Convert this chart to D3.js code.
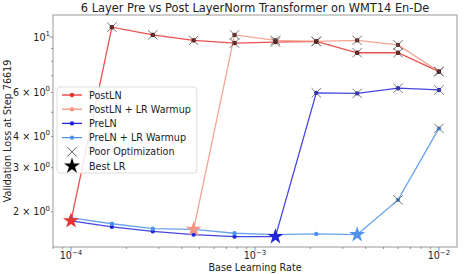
<!DOCTYPE html>
<html><head><meta charset="utf-8">
<script src="https://cdn.jsdelivr.net/npm/d3@7"></script>
<style>body{margin:0;background:#fff}text{font-family:"DejaVu Sans",sans-serif;fill:#222}</style>
</head><body><svg id="c" width="474" height="274"></svg>
<script>
// Data
const lrs = [1e-4, 1.668e-4, 2.783e-4, 4.642e-4, 7.743e-4, 1.292e-3, 2.154e-3, 3.594e-3, 5.995e-3, 1e-2];
const postLN       = [1.84, 10.95, 10.2, 9.7, 9.46, 9.55, 9.6, 8.65, 8.65, 7.27];
const postLNWarmup = [null, null, null, 1.70, 10.2, 9.7, 9.6, 9.7, 9.3, 7.27];
const preLN        = [1.84, 1.74, 1.67, 1.62, 1.59, 1.59, 5.98, 5.95, 6.24, 6.14];
const preLNWarmup  = [1.89, 1.79, 1.71, 1.70, 1.64, 1.62, 1.63, 1.62, 2.23, 4.31];
// indices with poor optimization (x) and best LR (star)
const poorPostLN = [1,2,3,4,5,6,7,8,9];
const poorPostLNWarmup = [4,5,6,7,8,9];
const poorPreLN = [6,7,8,9];
const poorPreLNWarmup = [8,9];
const bestIdx = [0, 3, 5, 7];
const seriesNames = ["PostLN", "PostLN + LR Warmup", "PreLN", "PreLN + LR Warmup"];
const xTicks = [1e-4, 1e-3, 1e-2];
const xTickExp = ["\u22124", "\u22123", "\u22122"];
const yTicks = [10, 6, 4, 3, 2];
const yTickLabels = [["10","1"], ["6 \u00d7 10","0"], ["4 \u00d7 10","0"], ["3 \u00d7 10","0"], ["2 \u00d7 10","0"]];
const title = "6 Layer Pre vs Post LayerNorm Transformer on WMT14 En-De";
const xLabel = "Base Learning Rate";
const yLabel = "Validation Loss at Step 76619";

const colors = ["#e5332f", "#f29580", "#2326d8", "#4f93e8"];
const series = [postLN, postLNWarmup, preLN, preLNWarmup];
const poor = [poorPostLN, poorPostLNWarmup, poorPreLN, poorPreLNWarmup];

const svg = d3.select("#c");
const L = 53, R = 457, T = 15, B = 247;
const x = d3.scaleLog().domain([7.98e-5, 1.254e-2]).range([L, R]);
const y = d3.scaleLog().domain([1.445, 12.25]).range([B, T]);
const FS = 9.6;

// frame
svg.append("rect").attr("x", L).attr("y", T).attr("width", R-L).attr("height", B-T)
  .attr("fill", "none").attr("stroke", "#999").attr("stroke-width", 1);

// x ticks
const xMinor = [];
[1e-5,1e-4,1e-3,1e-2].forEach(d => { for (let k=1;k<10;k++) { const v=d*k; if (v>=7.98e-5 && v<=1.254e-2) xMinor.push(v);} });
svg.selectAll(".xm").data(xMinor).enter().append("line")
  .attr("x1", d=>x(d)).attr("x2", d=>x(d)).attr("y1", B).attr("y2", d => xTicks.some(t=>Math.abs(t-d)/t<1e-6)?B+4:B+2)
  .attr("stroke", "#777").attr("stroke-width", 0.8);
xTicks.forEach((t,i) => {
  const tx = svg.append("text").attr("x", x(t)).attr("y", 259).attr("text-anchor","middle").attr("font-size", FS);
  tx.append("tspan").text("10");
  tx.append("tspan").text(xTickExp[i]).attr("font-size", 7).attr("dy", -4.5);
});

// y ticks
const yMinor = [2,3,4,5,6,7,8,9,10];
svg.selectAll(".ym").data(yMinor).enter().append("line")
  .attr("x1", d => d===10 ? L-4 : L-2).attr("x2", L).attr("y1", d=>y(d)).attr("y2", d=>y(d))
  .attr("stroke", "#777").attr("stroke-width", 0.8);
yTicks.forEach((t,i) => {
  const tx = svg.append("text").attr("x", 50).attr("y", y(t)+3.5).attr("text-anchor","end").attr("font-size", FS);
  tx.append("tspan").text(yTickLabels[i][0]);
  tx.append("tspan").text(yTickLabels[i][1]).attr("font-size", 7).attr("dy", -4.5);
});

// lines
const line = d3.line().defined(d => d[1] != null).x(d => x(d[0])).y(d => y(d[1]));
series.forEach((s, i) => {
  const pts = lrs.map((l, j) => [l, s[j]]);
  svg.append("path").datum(pts).attr("d", line).attr("fill","none")
    .attr("stroke", colors[i]).attr("stroke-width", 1.3).attr("opacity", 0.85);
  svg.selectAll(null).data(pts.filter(d => d[1]!=null)).enter().append("circle")
    .attr("cx", d=>x(d[0])).attr("cy", d=>y(d[1])).attr("r", 2.2).attr("fill", colors[i]);
});
// poor optimization crosses
const cross = d3.symbol().type(d3.symbolTimes).size(60);
series.forEach((s, i) => {
  poor[i].forEach(j => {
    svg.append("rect").attr("x", x(lrs[j])-2).attr("y", y(s[j])-2).attr("width",4).attr("height",4).attr("fill","#3a0a0a").attr("opacity", i<2?0.8:0);
    svg.append("path").attr("d", cross).attr("transform", `translate(${x(lrs[j])},${y(s[j])})`)
      .attr("fill","none").attr("stroke","#555").attr("stroke-width",1).attr("opacity",0.8);
  });
});
// best LR stars
const star = d3.symbol().type(d3.symbolStar).size(80);
series.forEach((s, i) => {
  const j = bestIdx[i];
  svg.append("path").attr("d", star).attr("transform", `translate(${x(lrs[j])},${y(s[j])})`).attr("fill", colors[i]);
});

// legend
const lg = svg.append("g");
const box = lg.append("rect").attr("x", 57).attr("y", 87).attr("height", 86).attr("rx", 3)
  .attr("fill", "#fff").attr("fill-opacity", 0.85).attr("stroke", "#ddd");
const rowY = i => 95 + i*14.2;
let maxW = 0;
seriesNames.forEach((n, i) => {
  lg.append("line").attr("x1", 62).attr("x2", 82).attr("y1", rowY(i)).attr("y2", rowY(i)).attr("stroke", colors[i]).attr("stroke-width", 1.3);
  lg.append("circle").attr("cx", 72).attr("cy", rowY(i)).attr("r", 2.2).attr("fill", colors[i]);
  const t = lg.append("text").attr("x", 89).attr("y", rowY(i)+3.5).attr("font-size", FS).text(n);
  maxW = Math.max(maxW, t.node().getComputedTextLength());
});
lg.append("path").attr("d", cross).attr("transform", `translate(72,${rowY(4)})`).attr("fill","none").attr("stroke","#555").attr("stroke-width",1);
lg.append("text").attr("x", 89).attr("y", rowY(4)+3.5).attr("font-size", FS).text("Poor Optimization");
lg.append("path").attr("d", star).attr("transform", `translate(72,${rowY(5)})`).attr("fill","#000");
lg.append("text").attr("x", 89).attr("y", rowY(5)+3.5).attr("font-size", FS).text("Best LR");
box.attr("width", 89 + maxW + 6 - 57);

// title, labels
svg.append("text").attr("x", (L+R)/2).attr("y", 12).attr("text-anchor","middle").attr("font-size", 11.4).text(title);
svg.append("text").attr("x", (L+R)/2).attr("y", 271).attr("text-anchor","middle").attr("font-size", FS).text(xLabel);
svg.append("text").attr("transform", `translate(11,${(T+B)/2}) rotate(-90)`).attr("text-anchor","middle").attr("font-size", FS).text(yLabel);
</script></body></html>
